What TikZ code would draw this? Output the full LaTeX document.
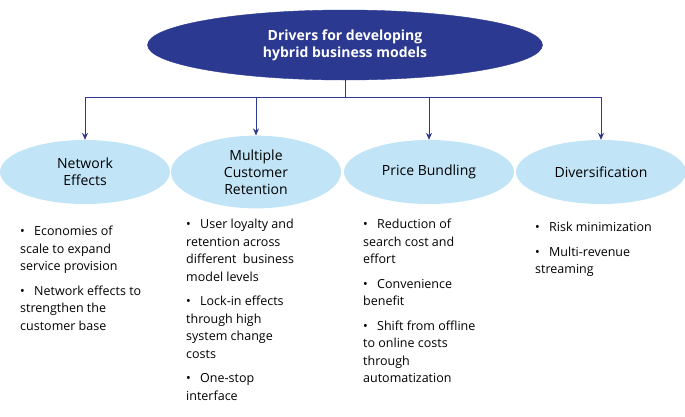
\documentclass[tikz,border=0pt]{standalone}
\usepackage{fontspec}
\setmainfont{Open Sans}
\usetikzlibrary{arrows.meta,shapes.geometric}
\definecolor{dk}{HTML}{2B3990}
\definecolor{lt}{HTML}{C2E4F7}
\newcommand\bitem[1]{\par\hangindent=14pt\hangafter=1\noindent\makebox[14pt][l]{•}#1\par\vspace{7pt}}
\newcommand\blist[1]{\parbox[t]{165pt}{\raggedright #1}}
\begin{document}
\begin{tikzpicture}[x=1pt,y=-1pt,
  top/.style={ellipse,fill=dk,draw=dk,minimum width=395pt,minimum height=70pt,text=white,font=\fontsize{14}{17}\selectfont\bfseries,align=center},
  sub/.style={ellipse,fill=lt,minimum width=170pt,minimum height=64pt,font=\fontsize{14}{17}\selectfont,align=center},
  lst/.style={anchor=north west,inner sep=0pt,font=\fontsize{12.5}{17.5}\selectfont},
  arr/.style={draw=dk,-{Stealth[length=7pt,width=6pt]},line width=0.8pt}]
\useasboundingbox (0,0) rectangle (685,416);
\node[top] (t) at (345,45) {Drivers for developing\\hybrid business models};
\node[sub] (a) at (85,172) {Network\\Effects};
\node[sub] (b) at (256,172) {Multiple\\Customer\\Retention};
\node[sub] (c) at (429,172) {Price Bundling};
\node[sub] (d) at (601,172) {Diversification};
\coordinate (j) at (345,97);
\draw[draw=dk,line width=0.8pt] (t.south) -- (j);
\foreach \n in {a,b,c,d}{\draw[arr] (j -| \n) -- (\n.north);}
\draw[draw=dk,line width=0.8pt] (j -| a) -- (j -| d);
\node[lst] (la) at (20,226) {\blist{\bitem{Economies of\\scale to expand\\service provision}\bitem{Network effects to\\strengthen the\\customer base}}};
\node[lst] (lb) at (186,219) {\blist{\bitem{User loyalty and\\retention across\\different\ \ business\\model levels}\bitem{Lock-in effects\\through high\\system change\\costs}\bitem{One-stop\\interface}}};
\node[lst] (lc) at (363,219) {\blist{\bitem{Reduction of\\search cost and\\effort}\bitem{Convenience\\benefit}\bitem{Shift from offline\\to online costs\\through\\automatization}}};
\node[lst] (ld) at (535,222) {\blist{\bitem{Risk minimization}\bitem{Multi-revenue\\streaming}}};
\end{tikzpicture}
\end{document}
